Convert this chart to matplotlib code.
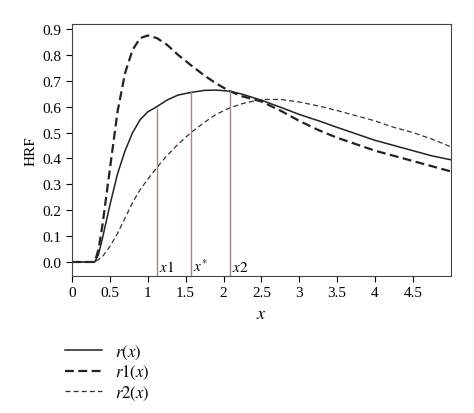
import matplotlib
matplotlib.use("Agg")
import matplotlib.pyplot as plt

x = [0, 0.1, 0.2, 0.3, 0.35, 0.4, 0.5, 0.6, 0.7, 0.8, 0.9, 1.0, 1.12, 1.25, 1.4, 1.57, 1.75, 1.9, 2.08, 2.25, 2.5, 2.75, 3.0, 3.25, 3.5, 3.75, 4.0, 4.25, 4.5, 4.75, 5.0]
r  = [0, 0, 0, 0.0, 0.03, 0.09, 0.22, 0.34, 0.43, 0.5, 0.55, 0.58, 0.6, 0.625, 0.645, 0.655, 0.663, 0.664, 0.66, 0.648, 0.625, 0.598, 0.57, 0.546, 0.52, 0.495, 0.47, 0.45, 0.43, 0.41, 0.395]
r1 = [0, 0, 0, 0.0, 0.05, 0.14, 0.36, 0.58, 0.73, 0.82, 0.865, 0.875, 0.865, 0.84, 0.8, 0.76, 0.72, 0.69, 0.66, 0.64, 0.62, 0.585, 0.545, 0.51, 0.48, 0.455, 0.43, 0.41, 0.39, 0.37, 0.35]
r2 = [0, 0, 0, 0.0, 0.01, 0.02, 0.06, 0.11, 0.17, 0.23, 0.28, 0.32, 0.365, 0.41, 0.455, 0.5, 0.54, 0.57, 0.595, 0.612, 0.628, 0.628, 0.618, 0.603, 0.585, 0.565, 0.545, 0.52, 0.5, 0.475, 0.445]
vx = [1.12, 1.57, 2.08]
vy = [0.59, 0.655, 0.66]
vlabels = [r"$x1$", r"$x^{*}$", r"$x2$"]

plt.rcParams['font.family'] = ['Liberation Serif', 'DejaVu Serif']
plt.rcParams['mathtext.fontset'] = 'stix'
fig = plt.figure(figsize=(4.74, 4.14), dpi=100)
ax = fig.add_axes([0.152, 0.331, 0.799, 0.609])
l0, = ax.plot(x, r, color='#222222', lw=1.1, label=r"$r(x)$")
l1, = ax.plot(x, r1, color='#222222', lw=1.6, ls=(0, (4, 2)), label=r"$r1(x)$")
l2, = ax.plot(x, r2, color='#333333', lw=0.9, ls=(0, (4, 2.5)), label=r"$r2(x)$")
for xv, yv, lab in zip(vx, vy, vlabels):
    ax.plot([xv, xv], [-0.054, yv], color='#a08a80', lw=1.0)
    ax.text(xv + 0.03, -0.045, lab, fontsize=11, va='bottom', ha='left')
ax.set_xlim(0, 5)
ax.set_ylim(-0.054, 0.92)
ax.set_xticks([0, 0.5, 1, 1.5, 2, 2.5, 3, 3.5, 4, 4.5])
ax.set_xticklabels(['0', '0.5', '1', '1.5', '2', '2.5', '3', '3.5', '4', '4.5'])
ax.set_yticks([0, 0.1, 0.2, 0.3, 0.4, 0.5, 0.6, 0.7, 0.8, 0.9])
ax.set_yticklabels(['0.0', '0.1', '0.2', '0.3', '0.4', '0.5', '0.6', '0.7', '0.8', '0.9'])
ax.tick_params(labelsize=11, direction='out', length=4)
ax.set_xlabel(r"$x$", fontsize=13)
ax.set_ylabel("HRF", fontsize=11)
for s in ax.spines.values():
    s.set_color('#444444')
fig.legend(handles=[l0, l1, l2], loc='upper left', bbox_to_anchor=(0.12, 0.19),
           frameon=False, fontsize=12, handlelength=2.2, labelspacing=0.15, borderpad=0)
fig.savefig("out.png", dpi=100)
